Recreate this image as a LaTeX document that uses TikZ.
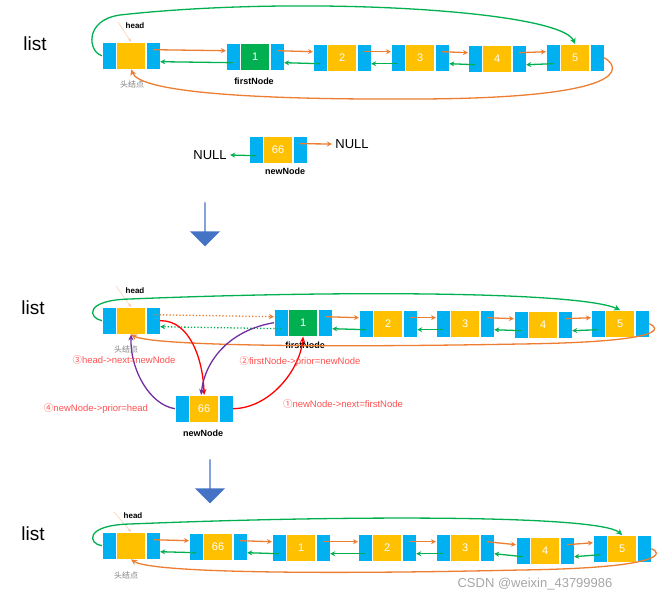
\documentclass[tikz,border=0pt]{standalone}
\usepackage{fontspec}
\setmainfont{Liberation Sans}
\newfontfamily\cjk{Noto Sans CJK SC}
\usetikzlibrary{arrows.meta,shapes.arrows}
\definecolor{cb}{HTML}{00B0F0}
\definecolor{cy}{HTML}{FFC000}
\definecolor{cg}{HTML}{00B050}
\definecolor{co}{HTML}{ED7D31}
\definecolor{cr}{HTML}{FF0000}
\definecolor{cp}{HTML}{7030A0}
\definecolor{cl}{HTML}{FF5050}
\definecolor{cd}{HTML}{4472C4}
\tikzset{
 cellb/.style={fill=cb,draw=white,line width=0.4pt,minimum width=14pt,minimum height=27pt,inner sep=0pt},
 cellm/.style={draw=white,line width=0.4pt,minimum width=29pt,minimum height=27pt,inner sep=0pt,text=white,font=\fontsize{11}{11}\selectfont},
 nx/.style={draw=co,line width=1.3pt,-{Stealth[length=5pt,width=5pt]}},
 pv/.style={draw=cg,line width=1.3pt,-{Stealth[length=5pt,width=5pt]}},
 lg/.style={draw=cg,line width=1.3pt,-{Stealth[length=6pt,width=6pt]}},
 lo/.style={draw=co,line width=1.3pt,-{Stealth[length=6pt,width=6pt]}},
 lst/.style={font=\fontsize{19}{19}\selectfont},
 hd/.style={font=\bfseries\fontsize{8}{8}\selectfont},
 hj/.style={font=\cjk\fontsize{8}{8}\selectfont,text=gray},
 lb/.style={font=\bfseries\fontsize{9}{9}\selectfont},
 rl/.style={font=\fontsize{9.5}{9.5}\selectfont,text=cl},
 hp/.style={draw=co!40,line width=0.5pt,-{Stealth[length=4pt,width=3pt]}},
 down/.style={single arrow,fill=cd,minimum height=44pt,minimum width=30pt,single arrow head extend=4pt,shape border rotate=270,inner sep=0pt}
}
\newcommand\dnode[5]{%
 \node[cellb,anchor=north west] (#1l) at (#2,#3) {};
 \node[cellm,fill=#5,anchor=west] (#1m) at (#1l.east) {#4};
 \node[cellb,anchor=west] (#1r) at (#1m.east) {};}
\newcommand\lnk[2]{%
 \draw[nx] ([yshift=6pt]#1r.center) -- ([yshift=6pt]#2l.west);
 \draw[pv] ([yshift=-6pt]#2l.center) -- ([yshift=-6pt]#1r.east);}
\begin{document}
\begin{tikzpicture}[x=1pt,y=-1pt]
\useasboundingbox (0,0) rectangle (666,603);
% ---------- section 1
\node[lst] (L1) at (35,44) {list};
\dnode{A}{102}{42}{}{cy}
\dnode{B}{226}{43}{1}{cg}
\dnode{C}{313}{44}{2}{cy}
\dnode{D}{391}{44}{3}{cy}
\dnode{E}{468}{45}{4}{cy}
\dnode{F}{546}{44}{5}{cy}
\lnk{A}{B}\lnk{B}{C}\lnk{C}{D}\lnk{D}{E}\lnk{E}{F}
\node[hd] (H1) at (135,26) {head};
\coordinate (h1) at (118,22);
\draw[hp] (h1) -- (Am.north);
\node[hj] (J1) at (132,84) {头结点};
\node[lb] (F1) at (254,81) {firstNode};
\draw[lg] (Al.west) .. controls (88,52) and (84,20) .. (120,15) .. controls (300,-5) and (560,10) .. (Fm.north);
\draw[lo] (Fr.east) .. controls (622,68) and (630,98) .. (420,99) .. controls (250,100) and (140,92) .. (Am.south);
% newNode alone
\dnode{N}{249}{136}{66}{cy}
\node[font=\fontsize{13}{13}\selectfont] (NL) at (210,155) {NULL};
\node[font=\fontsize{13}{13}\selectfont] (NR) at (352,144) {NULL};
\node[lb] (NN) at (285,171) {newNode};
\draw[nx] ([yshift=6pt]Nr.center) -- (NR.west);
\draw[pv] ([yshift=-6pt]Nl.center) -- (NL.east);
\node[down] (D1) at (205,224) {};
% ---------- section 2
\node[lst] (L2) at (33,308) {list};
\dnode{P}{102}{307}{}{cy}
\dnode{Q}{274}{309}{1}{cg}
\dnode{R}{359}{310}{2}{cy}
\dnode{S}{436}{310}{3}{cy}
\dnode{T}{514}{311}{4}{cy}
\dnode{U}{591}{310}{5}{cy}
\lnk{Q}{R}\lnk{R}{S}\lnk{S}{T}\lnk{T}{U}
\draw[nx,dotted] ([yshift=6pt]Pr.center) -- ([yshift=6pt]Ql.west);
\draw[pv,dotted] ([yshift=-6pt]Ql.center) -- ([yshift=-6pt]Pr.east);
\node[hd] (H2) at (135,291) {head};
\coordinate (h2) at (116,286);
\draw[hp] (h2) -- (Pm.north);
\node[hj] (J2) at (126,349) {头结点};
\node[lb] (F2) at (305,345) {firstNode};
\draw[lg] (Pl.west) .. controls (88,318) and (84,300) .. (130,299) .. controls (350,290) and (580,292) .. (Um.north);
\draw[lo] (Ur.east) .. controls (660,328) and (670,342) .. (520,344) .. controls (300,348) and (150,345) .. (Pm.south);
\dnode{M}{175}{395}{66}{cy}
\node[lb] (NN2) at (203,433) {newNode};
\draw[draw=cr,line width=1.3pt,-{Stealth[length=6pt,width=5pt]}] (Pr.east) .. controls (190,320) and (203,360) .. (Mm.north);
\draw[draw=cr,line width=1.3pt,-{Stealth[length=6pt,width=5pt]}] (Mr.east) .. controls (270,408) and (300,370) .. (Qm.south);
\draw[draw=cp,line width=1.3pt,-{Stealth[length=6pt,width=5pt]}] (Ql.west) .. controls (230,330) and (205,360) .. ([xshift=-3pt]Mm.north);
\draw[draw=cp,line width=1.3pt,-{Stealth[length=6pt,width=5pt]}] (Ml.west) .. controls (150,405) and (130,370) .. (Pm.south);
\node[rl] (r3) at (124,360) {{\cjk ③}head->next=newNode};
\node[rl] (r2) at (300,361) {{\cjk ②}firstNode->prior=newNode};
\node[rl] (r4) at (96,408) {{\cjk ④}newNode->prior=head};
\node[rl] (r1) at (343,404) {{\cjk ①}newNode->next=firstNode};
\node[down] (D2) at (210,481) {};
% ---------- section 3
\node[lst] (L3) at (33,534) {list};
\dnode{V}{102}{532}{}{cy}
\dnode{W}{189}{533}{66}{cy}
\dnode{X}{272}{534}{1}{cy}
\dnode{Y}{358}{534}{2}{cy}
\dnode{Z}{436}{534}{3}{cy}
\dnode{G}{516}{537}{4}{cy}
\dnode{K}{593}{535}{5}{cy}
\lnk{V}{W}\lnk{W}{X}\lnk{X}{Y}\lnk{Y}{Z}\lnk{Z}{G}\lnk{G}{K}
\node[hd] (H3) at (133,516) {head};
\coordinate (h3) at (114,512);
\draw[hp] (h3) -- (Vm.north);
\node[hj] (J3) at (126,575) {头结点};
\draw[lg] (Vl.west) .. controls (88,544) and (84,525) .. (130,524) .. controls (350,515) and (600,515) .. (Km.north);
\draw[lo] (Kr.east) .. controls (662,552) and (670,568) .. (520,570) .. controls (300,575) and (150,572) .. (Vm.south);
\node[font=\fontsize{13}{13}\selectfont,text=gray!70] (W1) at (535,584) {CSDN @weixin\_43799986};
\end{tikzpicture}
\end{document}
